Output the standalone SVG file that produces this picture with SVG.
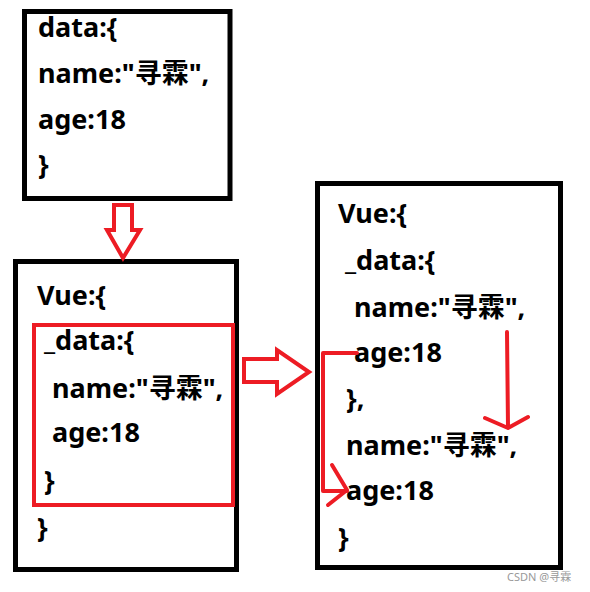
<svg xmlns="http://www.w3.org/2000/svg" width="590" height="592" viewBox="0 0 590 592">
<style>
.box{fill:none;stroke:#000;stroke-width:5}
.t{font-family:"Noto Sans","Noto Sans CJK SC",sans-serif;font-weight:bold;font-size:27px;fill:#000}
.red{fill:none;stroke:#ed1c24;stroke-width:4;stroke-linecap:round;stroke-linejoin:round}
.blk{fill:#fff;stroke:#ed1c24;stroke-width:4}
.wm{font-family:"Noto Sans","Noto Sans CJK SC",sans-serif;font-size:11px;fill:#999}
</style>
<rect width="590" height="592" fill="#fff"/>
<g id="data">
<rect class="box" x="24.5" y="11.5" width="205.5" height="187"/>
<text class="t" x="38" y="37">data:{</text>
<text class="t" x="38" y="83">name:"寻霖",</text>
<text class="t" x="38" y="129">age:18</text>
<text class="t" x="38" y="174">}</text>
</g>
<g id="vue1">
<rect class="box" x="15.5" y="261.5" width="221" height="308"/>
<text class="t" x="37" y="305">Vue:{</text>
<rect x="34" y="325" width="199" height="180" fill="none" stroke="#ed1c24" stroke-width="4"/>
<text class="t" x="44" y="350">_data:{</text>
<text class="t" x="52" y="398">name:"寻霖",</text>
<text class="t" x="52" y="442">age:18</text>
<text class="t" x="44" y="490">}</text>
<text class="t" x="37" y="537">}</text>
</g>
<g id="vue2">
<rect class="box" x="317.5" y="183.5" width="243" height="384"/>
<text class="t" x="338" y="223">Vue:{</text>
<text class="t" x="345" y="270">_data:{</text>
<text class="t" x="354" y="317">name:"寻霖",</text>
<text class="t" x="354" y="362">age:18</text>
<text class="t" x="346" y="408">},</text>
<text class="t" x="346" y="455">name:"寻霖",</text>
<text class="t" x="346" y="500">age:18</text>
<text class="t" x="338" y="547">}</text>
</g>
<g id="connectors">
<polygon class="blk" points="114,205 132,205 132,230 140,230 123,258 107,230 114,230"/>
<polygon class="blk" points="244,359 277,359 277,350 309,372 277,394 277,382 244,382"/>
<polyline class="red" points="357,353 323,353 323,491 347,491"/>
<polyline class="red" points="332,465 347,490 328,505"/>
<polyline class="red" points="507,332 508,427"/>
<polyline class="red" points="485,418 508,428 528,417"/>
</g>
<text class="wm" x="507" y="581">CSDN @寻霖</text>
</svg>
